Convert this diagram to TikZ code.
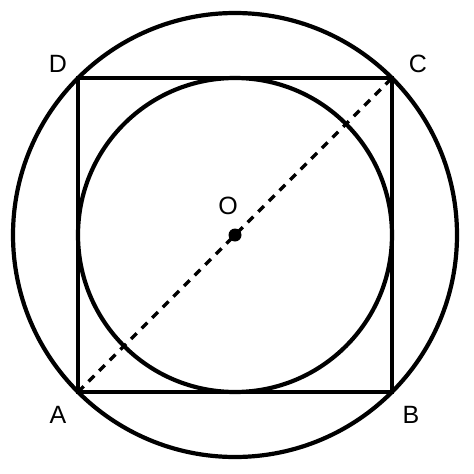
\documentclass[tikz,border=0pt]{standalone}
\usepackage{fontspec}
\setmainfont{Liberation Sans}
\begin{document}
\begin{tikzpicture}[x=1pt,y=-1pt,
  shape line/.style={line width=4.2pt},
  lbl/.style={font=\fontsize{25}{30}\selectfont, inner sep=0pt}]
\useasboundingbox (0,0) rectangle (474,474);
\coordinate (O) at (235,235);
\coordinate (A) at (78,392);
\coordinate (B) at (392,392);
\coordinate (C) at (392,78);
\coordinate (D) at (78,78);
\draw[shape line] (O) circle (222);
\draw[shape line] (O) circle (157);
\draw[shape line] (A) -- (B) -- (C) -- (D) -- cycle;
\draw[line width=3.5pt, dash pattern=on 8pt off 7pt] (A) -- (C);
\fill (O) circle (6.5);
\node[lbl] (la) at (58,415) {A};
\node[lbl] (lb) at (411,415) {B};
\node[lbl] (lc) at (418,64) {C};
\node[lbl] (ld) at (58,64) {D};
\node[lbl] (lo) at (228,206) {O};
\end{tikzpicture}
\end{document}
